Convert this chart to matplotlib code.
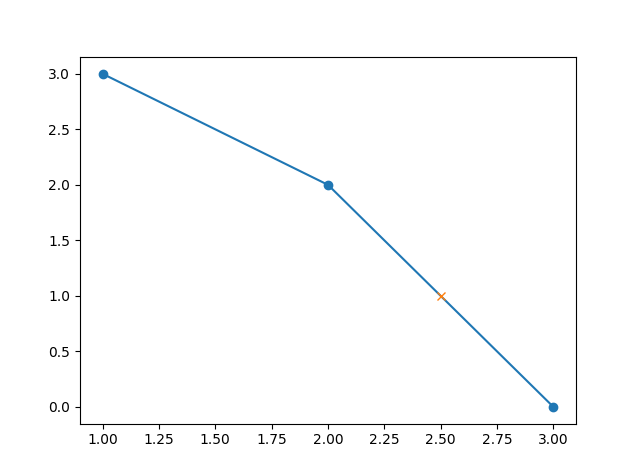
import matplotlib
matplotlib.use("Agg")
import matplotlib.pyplot as plt

x_values = [1, 2, 3]
y_values = [3, 2, 0]
x_marker = [2.5]
y_marker = [1]

fig, ax = plt.subplots(figsize=(6.4, 4.76), dpi=100)
ax.plot(x_values, y_values, marker="o")
ax.plot(x_marker, y_marker, marker="x", linestyle="none")
fig.savefig("out.png", dpi=100)
